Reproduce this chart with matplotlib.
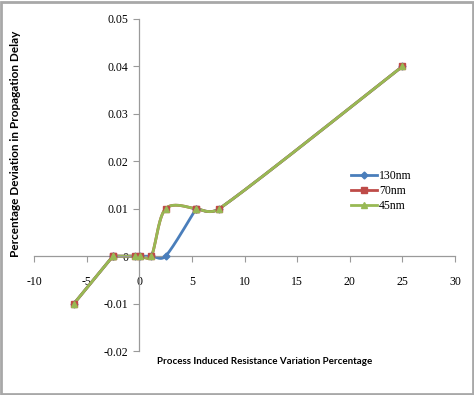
import numpy as np
import matplotlib
matplotlib.use("Agg")
import matplotlib.pyplot as plt
from matplotlib.patches import Rectangle

# ---- data (points repeated where the source table repeats a value) ----
x_130 = [-6.2, -2.5, -2.5, -0.4, 0.1, 1.15, 2.5, 5.4, 5.4, 7.6, 25.0]
y_130 = [-0.01, 0.0, 0.0, 0.0, 0.0, 0.0, 0.0, 0.01, 0.01, 0.01, 0.04]
x_70 = [-6.2, -2.5, -2.5, -0.4, 0.1, 1.15, 2.5, 5.4, 5.4, 7.6, 25.0]
y_70 = [-0.01, 0.0, 0.0, 0.0, 0.0, 0.0, 0.01, 0.01, 0.01, 0.01, 0.04]
x_45 = [-6.2, -2.5, -2.5, -0.4, 0.1, 1.15, 2.5, 5.4, 5.4, 7.6, 25.0]
y_45 = [-0.01, 0.0, 0.0, 0.0, 0.0, 0.0, 0.01, 0.01, 0.01, 0.01, 0.04]
labels = ["130nm", "70nm", "45nm"]
xticks = [-10, -5, 0, 5, 10, 15, 20, 25, 30]
yticks = [-0.02, -0.01, 0, 0.01, 0.02, 0.03, 0.04, 0.05]
yticklabels = ["-0.02", "-0.01", "0", "0.01", "0.02", "0.03", "0.04", "0.05"]


def smooth(ax, xs, ys, n=40):
    """Excel-like smoothed line (Bezier, control length limited), in screen space."""
    P = ax.transData.transform(np.column_stack([xs, ys]).astype(float))
    out = []
    for i in range(len(P) - 1):
        p0 = P[i - 1] if i > 0 else P[i]
        p1 = P[i]
        p2 = P[i + 1]
        p3 = P[i + 2] if i + 2 < len(P) else P[i + 1]
        d02 = np.linalg.norm(p2 - p0)
        d12 = np.linalg.norm(p2 - p1)
        d13 = np.linalg.norm(p3 - p1)
        f = 1 / 6.0
        g = 1 / 6.0
        if d02 > 0 and d02 / 6.0 >= d12 / 2.0:
            f = d12 / (2 * d02)
        if d13 > 0 and d13 / 6.0 >= d12 / 2.0:
            g = d12 / (2 * d13)
        c1 = p1 + f * (p2 - p0)
        c2 = p2 - g * (p3 - p1)
        t = np.linspace(0, 1, n)[:, None]
        seg = ((1 - t) ** 3) * p1 + 3 * ((1 - t) ** 2) * t * c1 + 3 * (1 - t) * t ** 2 * c2 + t ** 3 * p2
        out.append(seg if i == 0 else seg[1:])
    s = ax.transData.inverted().transform(np.vstack(out))
    return s[:, 0], s[:, 1]


fig = plt.figure(figsize=(4.74, 3.95), dpi=100)
fig.patch.set_facecolor("white")
ax = fig.add_axes([34 / 474, 1 - 351 / 395, (455 - 34) / 474, (351 - 19) / 395])
ax.set_xlim(-10, 30)
ax.set_ylim(-0.02, 0.05)

series = [
    (x_130, y_130, "#4A7EBB", "D", 3.5),
    (x_70, y_70, "#BE4B48", "s", 4.5),
    (x_45, y_45, "#98B954", "^", 4.0),
]
handles = []
for (xs, ys, c, m, ms), lab in zip(series, labels):
    sx, sy = smooth(ax, xs, ys)
    ax.plot(sx, sy, color=c, lw=2.0, zorder=2, solid_capstyle="round")
for (xs, ys, c, m, ms), lab in zip(series, labels):
    ax.plot(xs, ys, ls="none", marker=m, ms=ms, color=c, mec=c, zorder=3)
    h, = ax.plot([], [], color=c, lw=2.0, marker=m, ms=ms, mec=c, label=lab)
    handles.append(h)

for s in ["top", "right"]:
    ax.spines[s].set_visible(False)
ax.spines["left"].set_position(("data", 0))
ax.spines["bottom"].set_position(("data", 0))
for s in ["left", "bottom"]:
    ax.spines[s].set_color("#9a9a9a")
    ax.spines[s].set_linewidth(0.9)

tickfont = {"family": ["Liberation Serif", "DejaVu Serif"], "size": 8.5}
ax.set_xticks(xticks)
ax.set_xticklabels([str(v) for v in xticks], fontdict=tickfont)
ax.set_yticks(yticks)
ax.set_yticklabels(yticklabels, fontdict=tickfont)
ax.tick_params(axis="x", direction="out", length=4, color="#9a9a9a", pad=10)
ax.tick_params(axis="y", direction="out", length=4, color="#9a9a9a", pad=4)

fig.text(265 / 474, 1 - 362 / 395, "Process Induced Resistance Variation Percentage",
         ha="center", va="center", family=["Lato", "DejaVu Sans"], size=7.0, weight="bold")
fig.text(16 / 474, 1 - 144 / 395, "Percentage Deviation in Propagation Delay",
         ha="center", va="center", rotation=90, family=["Lato", "DejaVu Sans"], size=8.5, weight="bold")

leg = ax.legend(handles=handles, loc="upper left", bbox_to_anchor=(345 / 474, 1 - 164 / 395),
                bbox_transform=fig.transFigure, frameon=False,
                prop={"family": ["Liberation Serif", "DejaVu Serif"], "size": 8.5},
                handlelength=2.2, handletextpad=0.2, labelspacing=0.25, borderpad=0)

fig.patches.append(Rectangle((0.002, 0.003), 0.995, 0.993, transform=fig.transFigure,
                             fill=False, edgecolor="#a8a8a8", lw=2.0))

fig.savefig("out.png", dpi=100)
